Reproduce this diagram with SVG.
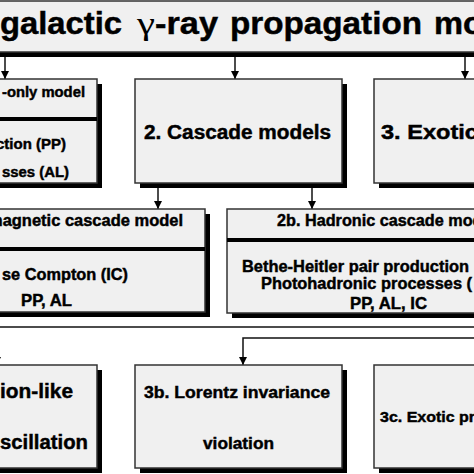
<svg xmlns="http://www.w3.org/2000/svg" width="474" height="474" viewBox="0 0 474 474">
<style>
.box{fill:#f0f0f0;stroke:#333;stroke-width:1.5}
.sh{fill:#000}
.div{stroke:#000;stroke-width:4}
.t{font-family:"Liberation Sans",Arial,sans-serif;font-weight:bold;fill:#000;stroke:#000;stroke-width:0.45}
.con{stroke:#111;stroke-width:1.5;fill:none}
</style>
<defs>
<marker id="ah" viewBox="0 0 10 10" refX="10" refY="5" markerWidth="8" markerHeight="9" markerUnits="userSpaceOnUse" orient="auto"><path d="M0,0 L10,5 L0,10 z" fill="#000"/></marker>
</defs>
<rect width="474" height="474" fill="#fff"/>

<g id="title">
<rect class="sh" x="-5" y="6" width="494" height="51"/>
<rect class="box" x="-10" y="1" width="494" height="51"/>
<text class="t" x="0" y="34" font-size="31" textLength="122" lengthAdjust="spacingAndGlyphs">galactic</text>
<text x="137" y="34" font-size="32" font-family="Liberation Serif,serif" textLength="18" lengthAdjust="spacingAndGlyphs">γ</text>
<text class="t" x="155" y="34" font-size="31" textLength="63" lengthAdjust="spacingAndGlyphs">-ray</text>
<text class="t" x="230" y="34" font-size="31" textLength="192" lengthAdjust="spacingAndGlyphs">propagation</text>
<text class="t" x="434" y="34" font-size="31" textLength="49" lengthAdjust="spacingAndGlyphs">mo</text>
</g>

<g id="connectors">
<line class="con" x1="5" y1="57" x2="5" y2="79" marker-end="url(#ah)"/>
<line class="con" x1="235" y1="57" x2="235" y2="79" marker-end="url(#ah)"/>
<line class="con" x1="465" y1="57" x2="465" y2="79" marker-end="url(#ah)"/>
<line class="con" x1="158" y1="187" x2="158" y2="209" marker-end="url(#ah)"/>
<line class="con" x1="312" y1="187" x2="312" y2="209" marker-end="url(#ah)"/>
<line class="con" x1="-5" y1="327" x2="480" y2="327"/>
<line class="con" x1="-3" y1="327" x2="-3" y2="365" marker-end="url(#ah)"/>
<polyline class="con" points="480,338 243,338 243,365" marker-end="url(#ah)"/>
</g>

<g id="box1">
<rect class="sh" x="-15" y="84" width="117" height="104"/>
<rect class="box" x="-20" y="79" width="117" height="104"/>
<line class="div" x1="-20" y1="119" x2="97" y2="119"/>
<text class="t" x="85" y="97" font-size="14.5" text-anchor="end" textLength="83" lengthAdjust="spacingAndGlyphs">-only model</text>
<text class="t" x="66" y="149" font-size="14.5" text-anchor="end" textLength="70" lengthAdjust="spacingAndGlyphs">ction (PP)</text>
<text class="t" x="69" y="177" font-size="14.5" text-anchor="end" textLength="67" lengthAdjust="spacingAndGlyphs">sses (AL)</text>
</g>

<g id="box2">
<rect class="sh" x="140" y="84" width="207" height="104"/>
<rect class="box" x="135" y="79" width="207" height="104"/>
<text class="t" x="144" y="139" font-size="20" textLength="187" lengthAdjust="spacingAndGlyphs">2. Cascade models</text>
</g>

<g id="box3">
<rect class="sh" x="379" y="84" width="120" height="104"/>
<rect class="box" x="374" y="79" width="120" height="104"/>
<text class="t" x="381" y="139" font-size="20" textLength="97" lengthAdjust="spacingAndGlyphs">3. Exotic</text>
</g>

<g id="box2a">
<rect class="sh" x="-15" y="214" width="225" height="103"/>
<rect class="box" x="-20" y="209" width="225" height="103"/>
<line class="div" x1="-20" y1="249" x2="205" y2="249"/>
<text class="t" x="183" y="226" font-size="16.5" text-anchor="end" textLength="195" lengthAdjust="spacingAndGlyphs">magnetic cascade model</text>
<text class="t" x="128" y="280" font-size="16.5" text-anchor="end" textLength="126" lengthAdjust="spacingAndGlyphs">se Compton (IC)</text>
<text class="t" x="21" y="306" font-size="16.5" textLength="51" lengthAdjust="spacingAndGlyphs">PP, AL</text>
</g>

<g id="box2b">
<rect class="sh" x="232" y="214" width="267" height="104"/>
<rect class="box" x="227" y="209" width="267" height="104"/>
<line class="div" x1="227" y1="240" x2="494" y2="240"/>
<text class="t" x="277" y="226" font-size="16.5" textLength="219" lengthAdjust="spacingAndGlyphs">2b. Hadronic cascade model</text>
<text class="t" x="242" y="272" font-size="16.5" textLength="227" lengthAdjust="spacingAndGlyphs">Bethe-Heitler pair production</text>
<text class="t" x="261" y="289" font-size="16.5" textLength="211" lengthAdjust="spacingAndGlyphs">Photohadronic processes (</text>
<text class="t" x="350" y="309" font-size="16.5" textLength="77" lengthAdjust="spacingAndGlyphs">PP, AL, IC</text>
</g>

<g id="box3a">
<rect class="sh" x="-15" y="370" width="117" height="103"/>
<rect class="box" x="-20" y="365" width="117" height="103"/>
<text class="t" x="73" y="398" font-size="20" text-anchor="end" textLength="73" lengthAdjust="spacingAndGlyphs">ion-like</text>
<text class="t" x="88" y="449" font-size="20" text-anchor="end" textLength="88" lengthAdjust="spacingAndGlyphs">scillation</text>
</g>

<g id="box3b">
<rect class="sh" x="140" y="370" width="207" height="103"/>
<rect class="box" x="135" y="365" width="207" height="103"/>
<text class="t" x="144" y="398" font-size="17" textLength="186" lengthAdjust="spacingAndGlyphs">3b. Lorentz invariance</text>
<text class="t" x="203" y="449" font-size="17" textLength="71" lengthAdjust="spacingAndGlyphs">violation</text>
</g>

<g id="box3c">
<rect class="sh" x="379" y="370" width="120" height="103"/>
<rect class="box" x="374" y="365" width="120" height="103"/>
<text class="t" x="380" y="422" font-size="15" textLength="95" lengthAdjust="spacingAndGlyphs">3c. Exotic pr</text>
</g>
</svg>
